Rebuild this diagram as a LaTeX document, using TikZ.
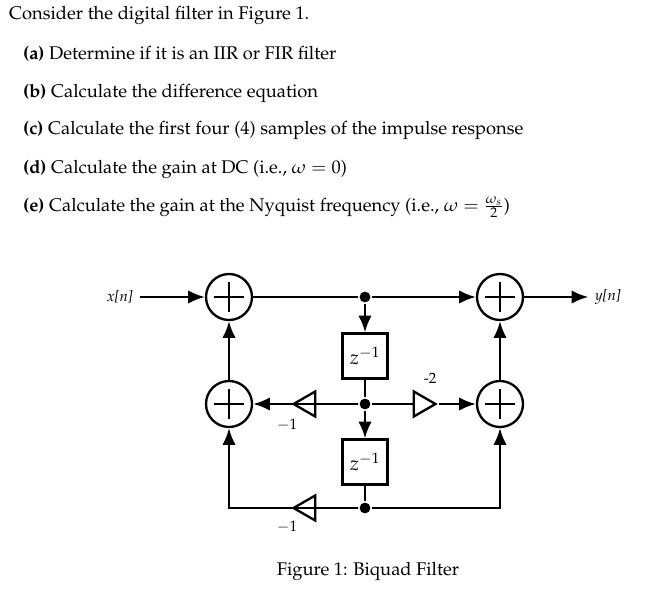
\documentclass[tikz,border=0pt]{standalone}
\usepackage[T1]{fontenc}
\usepackage{mathpazo}
\usepackage{amssymb}
\usetikzlibrary{arrows.meta,shapes.geometric}

\begin{document}
\begin{tikzpicture}[x=0.6pt,y=-0.6pt,>={Latex[length=10pt,width=8pt]},line width=1.4pt,
  txt/.style={anchor=base west,inner sep=0pt,font=\fontsize{11}{13}\selectfont},
  sum/.style={shape=circle,draw,minimum size=27.6pt,inner sep=0pt,
    path picture={\draw ([xshift=-9pt]path picture bounding box.center) -- ([xshift=9pt]path picture bounding box.center)
      ([yshift=-9pt]path picture bounding box.center) -- ([yshift=9pt]path picture bounding box.center);}},
  delay/.style={shape=rectangle,draw,minimum size=27pt,inner sep=0pt,font=\large},
  gain/.style={shape=isosceles triangle,draw,inner sep=0pt,minimum height=13pt,minimum width=15pt,
    isosceles triangle stretches},
  dot/.style={shape=circle,fill,inner sep=0pt,minimum size=6.5pt},
  sig/.style={font=\small\itshape}]
  \useasboundingbox (0,0) rectangle (657,603);

  % questions
  \node (q0) at (8,20) [txt] {Consider the digital filter in Figure 1.};
  \node (qa) at (22,60) [txt] {\textbf{(a)} Determine if it is an IIR or FIR filter};
  \node (qb) at (22,98) [txt] {\textbf{(b)} Calculate the difference equation};
  \node (qc) at (22,135) [txt] {\textbf{(c)} Calculate the first four (4) samples of the impulse response};
  \node (qd) at (22,173) [txt] {\textbf{(d)} Calculate the gain at DC (i.e., $\omega=0$)};
  \node (qe) at (22,211) [txt] {\textbf{(e)} Calculate the gain at the Nyquist frequency (i.e., $\omega=\frac{\omega_s}{2}$)};

  % filter
  \node (xin) at (120,297) [sig] {x[n]} ;
  \node (yout) at (608,297) [sig] {y[n]} ;
  \node (s1) at (229,297) [sum] {} ;
  \node (s2) at (500,297) [sum] {} ;
  \node (s3) at (229,404) [sum] {} ;
  \node (s4) at (500,404) [sum] {} ;
  \node (d1) at (365,356) [delay] {$z^{-1}$} ;
  \node (d2) at (365,462) [delay] {$z^{-1}$} ;
  \node (j1) at (365,297) [dot] {} ;
  \node (j2) at (365,404) [dot] {} ;
  \node (j3) at (365,508) [dot] {} ;
  \node (g1) at (308,404) [gain,shape border rotate=180] {} ;
  \node (g2) at (421,404) [gain] {} ;
  \node (g3) at (308,508) [gain,shape border rotate=180] {} ;
  \node (l1) at (287,425) {\small $-1$} ;
  \node (l2) at (430,378) {\small -2} ;
  \node (l3) at (287,527) {\small $-1$} ;
  \coordinate (c1) at (229,508) ;
  \coordinate (c2) at (500,508) ;

  \draw [->] (xin) -- (s1);
  \draw (s1) -- (j1);
  \draw [->] (j1) -- (s2);
  \draw [->] (s2) -- (yout);

  \draw [->] (j1) -- (d1);
  \draw (d1) -- (j2);
  \draw [->] (j2) -- (d2);
  \draw (d2) -- (j3);

  \draw (j2) -- (g1.west);
  \draw [->] (g1.east) -- (s3);
  \draw (j2) -- (g2.west);
  \draw [->] (g2.east) -- (s4);
  \draw [->] (s3) -- (s1);
  \draw [->] (s4) -- (s2);

  \draw (j3) -- (g3.west);
  \draw [->] (g3.east) -- (c1) -- (s3);
  \draw [->] (j3) -- (c2) -- (s4);

  \node (cap) at (368,571) [font=\fontsize{11}{13}\selectfont] {Figure 1: Biquad Filter} ;
\end{tikzpicture}
\end{document}
